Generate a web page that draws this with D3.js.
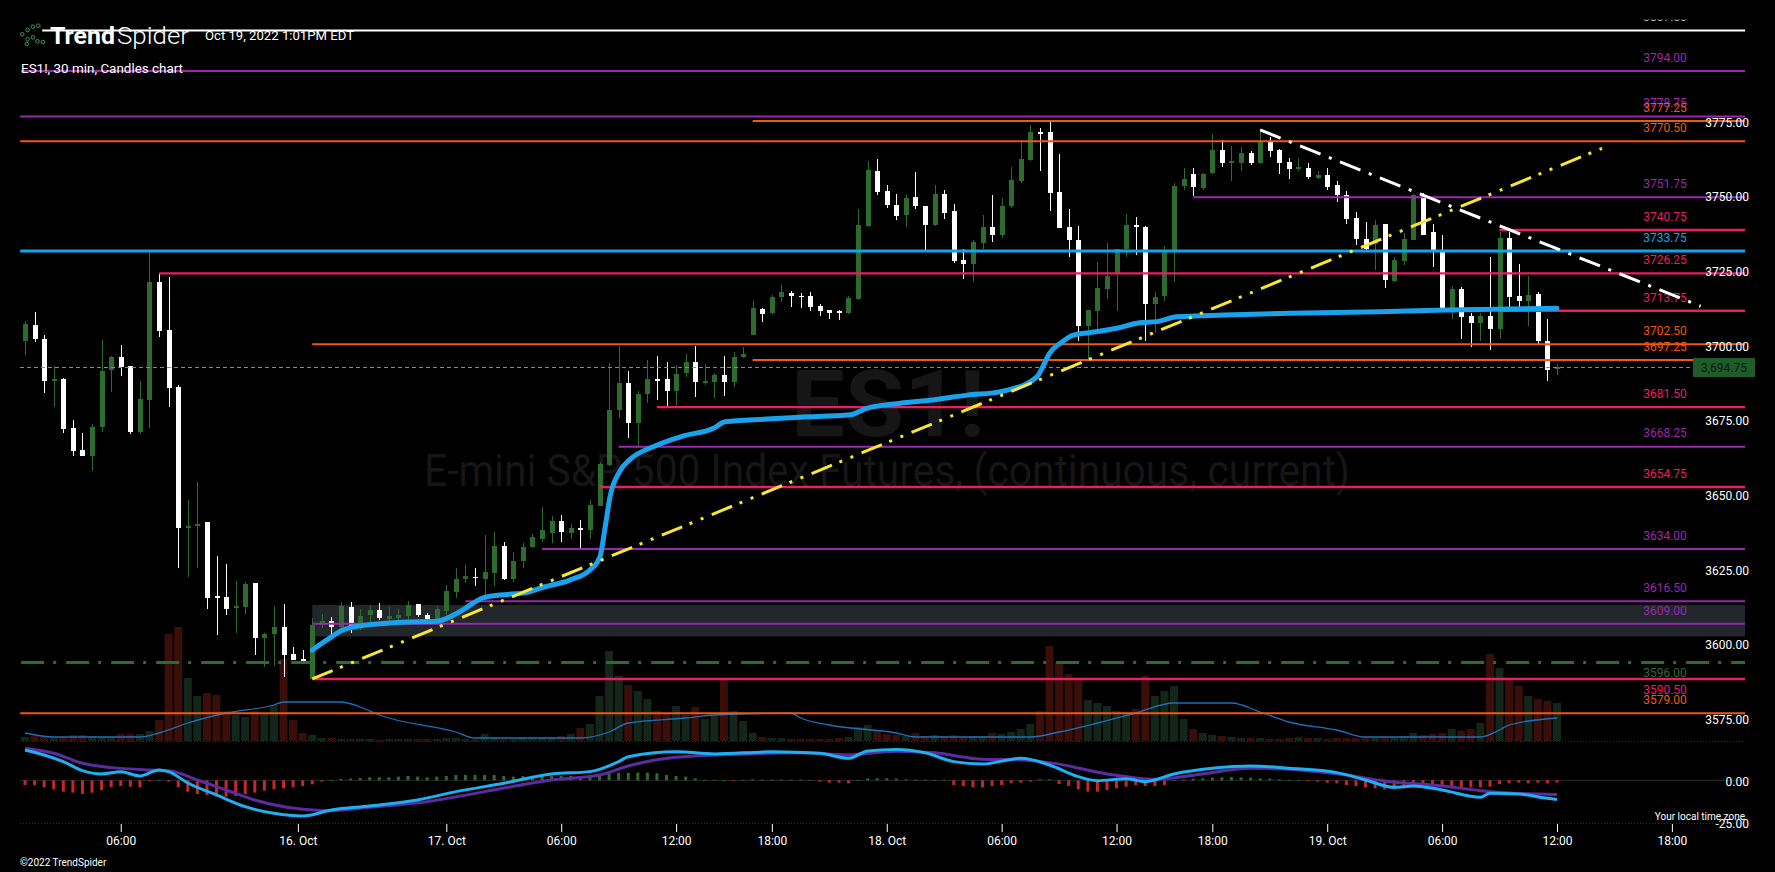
<!DOCTYPE html>
<html><head><meta charset="utf-8">
<script src="https://cdn.jsdelivr.net/npm/d3@7"></script>
<style>
body{margin:0;background:#000;overflow:hidden}
svg{display:block}
text{font-family:Roboto,"Open Sans",sans-serif}
</style></head><body>
<svg id="c" width="1775" height="872"></svg>
<script>
// ---------- DATA ----------
const opens=[3703.75,3709,3704.25,3690.25,3691,3674.5,3667,3665,3674.75,3693.75,
3698.25,3695.25,3673,3684,3723.5,3707.25,3688.25,3641,3641.75,3643,
3618.25,3618,3614.25,3614.75,3622.5,3604.25,3605.5,3608,3598.75,3597.25,
3590.5,3608.5,3610,3607.75,3614.75,3608.5,3611.75,3613.5,3610.5,3611,
3611.5,3615.5,3612,3610.5,3613.25,3619.5,3624,3624.75,3624,3626,
3635,3624,3630,3634.75,3637.5,3639.5,3643.25,3639.5,3641,3640.5,
3648.5,3662,3680.5,3689.5,3676.25,3685.75,3691,3690.75,3687,3692.75,
3696.5,3689.5,3690,3692.25,3690,3698.25,3705.5,3714.25,3713,3718.25,
3719.75,3718.75,3718.75,3715.25,3714,3713.5,3713,3717.75,3742,3760.5,
3753.75,3749,3745.75,3751.75,3748.75,3742.5,3752.75,3747.25,3730.75,3729.5,
3736.5,3741.75,3739.25,3748.75,3757.25,3764.25,3773.5,3773.5,3753.5,3741.75,
3737.5,3708.75,3713.75,3721,3726.25,3734.25,3742.5,3741.75,3716,3718.75,
3734,3755.5,3759.5,3754.75,3759.75,3767.5,3763.25,3763.25,3766.5,3763.25,
3770.25,3767.5,3763.5,3761.25,3761.5,3758.25,3759.25,3755.75,3752.5,3744.75,
3737.75,3736,3742.75,3723.75,3730.5,3737.5,3752,3740,3733.5,3714.5,
3721,3712,3709.75,3712,3707.5,3738.25,3718.75,3717,3719.25,3703.75,
3694.5];
const highs=[3710.25,3713.25,3705.5,3695.25,3691.25,3677.25,3672.75,3676,3704,3698.75,
3702.25,3695.25,3690.25,3733.5,3726.25,3725,3689,3650.5,3656.5,3643,
3631.75,3629,3623.25,3623,3622.5,3605.75,3615,3615.5,3601.25,3600.25,
3611,3612.25,3611.25,3616.25,3616.25,3614,3615.25,3616,3614.5,3614,
3616.5,3615.75,3612.5,3615,3622,3627.5,3628.75,3627.75,3638.75,3639.75,
3636.5,3633,3636,3639,3648,3645,3645.5,3642.5,3643.75,3650.5,
3663,3696.25,3702,3693.5,3687,3697.25,3698.5,3696.75,3695.5,3699.25,
3702,3696,3692.75,3698.5,3700,3701.75,3717,3714.75,3719,3722.5,
3720.5,3719.75,3720,3716,3714,3714,3718.75,3747.75,3763.75,3764.5,
3755.75,3752.75,3752.5,3760.25,3748.75,3755.75,3754.25,3749.5,3734.5,3737.5,
3745.75,3752.5,3751.5,3761.75,3770.25,3776,3775,3777,3766.25,3747.75,
3742,3714,3730,3736.5,3734.5,3746.25,3745.25,3742,3720,3735.5,
3756.5,3761.5,3761.5,3759.75,3773,3771,3769,3768.5,3767.25,3774.25,
3771.75,3768,3765,3765,3763.25,3760.5,3761.5,3757.25,3753.75,3746.75,
3743.5,3744,3742.75,3731.75,3739.75,3752.75,3753,3742.75,3739,3722,
3721.75,3713,3713,3731.75,3740.25,3740.25,3729.5,3725.5,3720,3711,
3696];
const lows=[3699,3703.25,3686.25,3681.5,3672.75,3665,3665,3660.25,3673.25,3686.5,
3692,3672.5,3672.5,3674.5,3705,3681.5,3627.75,3624.75,3627.75,3614,
3605.25,3612,3606,3612.25,3598.5,3594.5,3595,3591.25,3596.75,3596,
3590.5,3607.5,3604.75,3606,3606,3607,3609.5,3610.25,3609,3610,
3610.25,3611.25,3610,3610,3612,3617.75,3622.75,3621.5,3617.75,3621.5,
3623.75,3623,3627.75,3634.25,3636.5,3636,3636.5,3637.25,3634.25,3637.5,
3648.25,3661.75,3678,3671,3668.5,3683,3684,3682,3681.75,3691.5,
3685,3689,3684.5,3685.25,3688.25,3698,3705.5,3710,3712.75,3716.5,
3715,3714.5,3713.75,3712,3711,3710.5,3712.75,3717.25,3741.75,3752.5,
3748.25,3744,3741.75,3747.75,3734,3742.25,3744.5,3729.75,3724.5,3723.5,
3734.5,3736.75,3738,3748.25,3756.5,3764,3760.5,3747,3741.5,3731.75,
3703.5,3697.75,3707.25,3717.75,3713.75,3731.75,3732.25,3703.5,3706.25,3717,
3723.5,3754,3752,3754.25,3759.5,3762,3757.25,3760.5,3762.5,3763,
3765.25,3759.5,3757.75,3760.5,3757.75,3757.75,3754,3750.25,3742.75,3735.75,
3734,3727.25,3721.5,3723.5,3729,3737.25,3739,3728.25,3714.5,3711,
3704.25,3701.75,3703.5,3700.5,3704.25,3715,3715,3708.5,3702.75,3690.25,
3692.25];
const closes=[3709.25,3704.25,3690.25,3691,3674.25,3666.75,3665,3674.75,3693.5,3698.25,
3694.75,3673,3684.25,3723.5,3707,3687.75,3641,3641.75,3642.5,3617.75,
3617.75,3614,3615,3622.25,3604.25,3605.5,3608,3598.5,3597,3596,
3608.5,3610,3607.75,3615,3608,3611.5,3613.75,3610.75,3611.5,3612,
3615.25,3612,3610.5,3614,3620,3624,3625,3624.25,3626.25,3635,
3624,3630,3634.75,3638,3640.25,3643.25,3639.75,3641,3640.5,3648.75,
3662.5,3680.5,3689.5,3676.25,3685.75,3691,3690.25,3687,3692.5,3696.5,
3689.75,3690.25,3692.25,3689.75,3698.25,3699.25,3714.5,3712.75,3718.25,3720,
3718.75,3718.5,3715,3713.5,3713,3713.25,3718,3742.5,3760.75,3753.5,
3749,3745.5,3751.5,3748.75,3742.5,3752.75,3746.5,3730.25,3729.25,3736.75,
3741.75,3739.25,3748.75,3757.5,3764.5,3773.5,3773.25,3753.25,3741.5,3737.25,
3708.75,3714,3721.25,3725.5,3734.5,3742.5,3741.75,3716,3718.5,3734,
3755.5,3757.75,3755,3759.5,3767.5,3763.25,3763.75,3766.5,3763.25,3770.25,
3767.25,3763.25,3761.25,3761.75,3758.5,3759.25,3755.25,3752.5,3744.5,3737.75,
3734.5,3742.5,3724,3730.75,3737.75,3752.5,3739.25,3734,3714.5,3721,
3711.75,3709.75,3712,3707.75,3738,3718.5,3717,3719,3703.75,3694,
3694.75];
// volume (thousands of contracts)
const volumes=[4,5,5,4,4,6,6,5,4,4,
7,7,7,10,21,107,114,63,45,48,
46,30,26,24,30,28,36,82,21,8,
6,3,3,2,2,2,2,1,2,2,
2,2,2,2,3,3,2,2,7,3,
2,2,3,3,4,4,5,7,13,17,
45,90,65,56,50,42,30,28,35,26,
34,22,25,62,30,20,8,4,3,3,
2,2,2,2,2,3,4,14,16,10,
7,6,5,8,5,6,5,6,4,5,
5,8,7,9,12,17,30,95,79,67,
62,41,38,35,30,28,32,65,45,50,
55,22,12,8,6,5,4,3,3,3,
2,2,3,4,3,3,2,3,3,3,
4,3,4,4,5,8,6,7,8,12,
10,12,18,87,73,62,55,45,42,40,
38];
// volume moving average: [candle index, value]
const volMA=[[0,8],[3,4],[12,4],[14,8],[17,18],[21,28],[26,36],[27,39],[33,39],[35,34],[37,26],[45,9],[47,3],[58,3],[61,9],[63,18],[69,23],[72,26],[80,28],[81,23],[84,16],[91,8],[93,4],[105,4],[108,9],[112,18],[116,28],[120,38],[126,38],[129,29],[132,19],[137,11],[140,4],[152,4],[154,11],[155,16],[160,23]];
// MACD histogram per candle
const macdHist=[-2.8,-2.8,-4.2,-5.4,-6.8,-7.4,-8.2,-7.4,-5.8,-4.2,
-3.4,-3.8,-4.2,-0.4,0.2,-0.8,-4.2,-6.8,-8.2,-8.8,
-9.8,-9.8,-9.4,-8.2,-7.4,-6.2,-5.4,-4.8,-4.2,-3.4,
-2.4,-0.8,0.2,0.8,1.0,1.4,1.8,1.8,1.8,2.2,
2.6,2.2,1.8,2.2,2.6,3.2,3.2,3.2,3.2,3.2,
2.6,2.2,2.6,2.6,3.2,2.6,2.6,2.6,2.6,2.6,
3.2,4.2,4.6,4.6,4.6,4.6,4.2,3.2,2.6,2.2,
1.2,0.2,0.2,0.1,-0.1,0.1,0.6,0.4,0.4,0.4,
0.4,0.4,0.1,-0.8,-1.4,-1.4,-1.8,0.2,1.2,1.2,
1.2,1.0,0.6,0.4,0.4,0.2,0.2,-2.8,-3.4,-4.2,
-4.2,-3.4,-2.8,-1.8,-1.4,-0.8,0.6,0.6,-2.2,-3.4,
-5.4,-6.8,-6.8,-5.8,-4.8,-3.8,-2.8,-3.4,-3.4,-2.8,
0.2,0.6,1.0,1.2,1.6,1.8,2.0,1.8,1.6,1.2,
1.0,0.6,0.2,0.1,-0.1,-0.8,-1.4,-1.8,-2.8,-3.4,
-4.2,-4.8,-5.4,-5.4,-4.8,-3.4,-3.0,-2.8,-3.4,-3.8,
-4.2,-4.2,-4.2,-3.8,-2.2,-1.8,-1.4,-1.8,-1.4,-1.8,
-1.4];
const macdLine=[[0,18.2],[2,15.2],[4,11.2],[6,5.8],[8,3.8],[10,5.2],[12,2.6],[14,6.2],[15,5.2],[17,-1.6],[20,-8.8],[23,-15.8],[26,-19.8],[29,-21.4],[32,-17.8],[36,-15.4],[41,-11.8],[45,-6.8],[50,-1.8],[55,3.8],[59,5.2],[62,11.2],[63,14.1],[68,17.1],[72,15.8],[78,17.1],[83,16.2],[86,13.2],[88,17.6],[91,18.5],[94,16.5],[97,11.2],[100,9.8],[104,13.2],[107,9.2],[110,2.2],[112,-0.2],[115,1.0],[117,-0.8],[120,3.8],[124,7.2],[128,8.6],[132,7.2],[137,4.6],[140,0.2],[143,-4.2],[145,-3.4],[148,-5.8],[152,-10.2],[153,-7.8],[156,-8.2],[159,-10.8],[160,-11.5]];
const signalLine=[[0,19.2],[3,16.2],[6,10.2],[9,7.6],[13,6.2],[15,5.8],[18,0.2],[21,-5.8],[24,-11.8],[29,-17.4],[32,-18.2],[36,-16.2],[42,-12.8],[48,-6.8],[55,0.2],[60,3.2],[63,8.6],[68,13.8],[75,15.6],[81,16.5],[86,15.2],[91,17.4],[95,16.5],[100,12.6],[104,12.2],[107,10.6],[113,3.8],[118,0.6],[123,3.8],[128,7.2],[133,6.2],[138,3.2],[142,-0.4],[148,-3.4],[152,-6.2],[159,-8.4],[160,-8.5]];
// anchored VWAP: [candle index, price]
const vwap=[[30,3600.2],[31.5,3603.5],[33.2,3606.9],[34.3,3607.9],[37,3609],[39.2,3609.5],[43,3609.8],[45.4,3613],[47.8,3617.6],[49.6,3618.6],[52.4,3619.4],[53.8,3620.9],[56.9,3623.6],[59,3627],[60.05,3631.4],[60.6,3641.5],[61.1,3651.5],[62.1,3659.9],[63.2,3664],[65.6,3668.2],[68.7,3671.8],[71.9,3674.4],[73.1,3676.6],[77.5,3677.5],[80.9,3678.1],[86.2,3678.9],[87.9,3681.1],[91.4,3682.8],[94.8,3683.9],[98.4,3685.5],[101.8,3686.6],[102.9,3687.4],[105.7,3691.7],[106.3,3695],[107,3699.5],[108.1,3702.8],[109.5,3705.6],[111.2,3706.4],[114,3707.9],[116.4,3709.7],[118.2,3710.1],[120.3,3711.7],[125.2,3712.3],[132.1,3712.9],[141.5,3713.4],[148.5,3714],[160,3714.6]];
// horizontal levels
const levelPrices=[3807.50,3794.00,3778.75,3777.25,3770.50,3751.75,3740.75,3733.75,3726.25,3713.75,3702.50,3697.25,3681.50,3668.25,3654.75,3634.00,3616.50,3609.00,3596.00,3590.50,3579.00];
const levelStartIdx=[1.8,-0.4,-0.5,76,-0.5,122,154,-0.5,14,154,30,76,66,62,60,54,46,30,-0.4,30,-0.5];
const levelKind=['white','purple','purple','orange','orange','purple','pink','blue','pink','pink','orange','orange','pink','purple','pink','purple','purple','purple','green','pink','orange'];
const levelLabelBelow=[0,0,0,0,0,0,0,0,0,0,0,0,0,0,0,0,0,0,1,1,0];
const zonePrices=[3615.25,3604.75], zoneStartIdx=30;
const trendYellow=[[30,3590.5],[164.7,3768.1]];
const trendWhite=[[129,3774.25],[175,3715.25]];
const lastPrice=3694.75;
const priceTicks=[3575,3600,3625,3650,3675,3700,3725,3750,3775];
const macdTicks=[0,-25];
const timeTickIdx=[10,28.5,44,56,68,78,90,102,114,124,136,148,160,172];
const timeTickLabels=['06:00','16. Oct','17. Oct','06:00','12:00','18:00','18. Oct','06:00','12:00','18:00','19. Oct','06:00','12:00','18:00'];

// ---------- STYLE ----------
const GREEN='#2e6b2e', WHITE='#ffffff';
const kindStyle={white:{c:'#ffffff',w:2},purple:{c:'#9c27b0',w:2},orange:{c:'#f0590c',w:2},pink:{c:'#e91e63',w:2.4},blue:{c:'#0aa6f0',w:3},green:{c:'#2e6b2e',w:3,dash:'23,9,3,10'}};
const RIGHT=1745;

const svg=d3.select('#c');
svg.append('rect').attr('width',1775).attr('height',872).attr('fill','#000');
const x=d3.scaleLinear().domain([0,160]).range([25,1557]);
const y=d3.scaleLinear().domain([3575,3800]).range([725.3,53.0]);
const yVol=d3.scaleLinear().domain([0,120]).range([741,621]);
const yMacd=d3.scaleLinear().domain([-25,25]).range([822,738.6]);

const defs=svg.append('defs');
defs.append('clipPath').attr('id','clipTop').append('rect').attr('x',0).attr('y',19.5).attr('width',1775).attr('height',860);

// watermark
svg.append('text').attr('x',888).attr('y',436).attr('text-anchor','middle')
 .attr('font-family','Liberation Sans, Arial, sans-serif').attr('font-weight','bold').attr('font-size',92)
 .attr('fill','#161616').attr('textLength',194).attr('lengthAdjust','spacingAndGlyphs').text('ES1!');
svg.append('text').attr('x',887).attr('y',486).attr('text-anchor','middle')
 .attr('font-family','Liberation Sans, Arial, sans-serif').attr('font-size',44)
 .attr('fill','#161616').attr('textLength',926).attr('lengthAdjust','spacingAndGlyphs')
 .text('E-mini S&P 500 Index Futures, (continuous, current)');

// zone
svg.append('rect').attr('x',x(zoneStartIdx)).attr('width',RIGHT-x(zoneStartIdx))
 .attr('y',y(zonePrices[0])).attr('height',y(zonePrices[1])-y(zonePrices[0])).attr('fill','#21272b');

const candles=d3.range(opens.length).map(i=>({i,o:opens[i],h:highs[i],l:lows[i],c:closes[i],v:volumes[i],m:macdHist[i]}));

// volume
svg.append('g').selectAll('rect').data(candles).join('rect')
 .attr('x',d=>x(d.i)-4).attr('width',8).attr('y',d=>yVol(d.v)).attr('height',d=>yVol(0)-yVol(d.v))
 .attr('fill',d=>d.c>=d.o?'#14261a':'#3a0e09');
svg.append('path').datum(volMA).attr('fill','none').attr('stroke','#1f6fb8').attr('stroke-width',1.3)
 .attr('d',d3.line().x(d=>x(d[0])).y(d=>yVol(d[1])).curve(d3.curveMonotoneX));
svg.append('line').attr('x1',20).attr('x2',RIGHT).attr('y1',741.5).attr('y2',741.5).attr('stroke','#1e3a22').attr('stroke-dasharray','1,2');

// MACD pane
svg.append('line').attr('x1',20).attr('x2',RIGHT).attr('y1',yMacd(0)).attr('y2',yMacd(0)).attr('stroke','#2a2a2a');
svg.append('line').attr('x1',20).attr('x2',RIGHT).attr('y1',823.5).attr('y2',823.5).attr('stroke','#2e2e2e').attr('stroke-dasharray','1,2');
svg.append('g').selectAll('rect').data(candles).join('rect')
 .attr('x',d=>x(d.i)-1.5).attr('width',3)
 .attr('y',d=>d.m>=0?yMacd(d.m):yMacd(0)).attr('height',d=>Math.max(0.8,Math.abs(yMacd(d.m)-yMacd(0))))
 .attr('fill',d=>d.m>=0?'#2e6b2e':'#c62828');
svg.append('path').datum(signalLine).attr('fill','none').attr('stroke','#5b2ca0').attr('stroke-width',3)
 .attr('d',d3.line().x(d=>x(d[0])).y(d=>yMacd(d[1])).curve(d3.curveMonotoneX));
svg.append('path').datum(macdLine).attr('fill','none').attr('stroke','#1fb0f2').attr('stroke-width',3)
 .attr('d',d3.line().x(d=>x(d[0])).y(d=>yMacd(d[1])).curve(d3.curveMonotoneX));

// candles
const cg=svg.append('g').attr('shape-rendering','crispEdges');
cg.selectAll('line').data(candles).join('line')
 .attr('x1',d=>Math.round(x(d.i))+0.5).attr('x2',d=>Math.round(x(d.i))+0.5)
 .attr('y1',d=>y(d.h)).attr('y2',d=>y(d.l)).attr('stroke',d=>d.c>=d.o?GREEN:WHITE);
cg.selectAll('rect').data(candles).join('rect')
 .attr('x',d=>Math.round(x(d.i))-2).attr('width',5)
 .attr('y',d=>y(Math.max(d.o,d.c))).attr('height',d=>Math.max(1.5,Math.abs(y(d.o)-y(d.c))))
 .attr('fill',d=>d.c>=d.o?GREEN:WHITE);

// current price line
svg.append('line').attr('x1',20).attr('x2',1693).attr('y1',y(lastPrice)).attr('y2',y(lastPrice))
 .attr('stroke','#8a8a8a').attr('stroke-dasharray','4,3');

// levels
const levels=levelPrices.map((p,k)=>({p,s:levelStartIdx[k],kind:levelKind[k],below:levelLabelBelow[k]}));
const lg=svg.append('g').attr('clip-path','url(#clipTop)');
lg.selectAll('line').data(levels).join('line')
 .attr('x1',d=>x(d.s)).attr('x2',RIGHT).attr('y1',d=>y(d.p)).attr('y2',d=>y(d.p))
 .attr('stroke',d=>kindStyle[d.kind].c).attr('stroke-width',d=>kindStyle[d.kind].w)
 .attr('stroke-dasharray',d=>kindStyle[d.kind].dash||null);
lg.selectAll('text').data(levels).join('text')
 .attr('x',1665).attr('y',d=>d.below?y(d.p)+14.8:y(d.p)-9.2).attr('text-anchor','middle').attr('font-size',12)
 .attr('fill',d=>d.kind==='white'?'#bbbbbb':kindStyle[d.kind].c).text(d=>d.p.toFixed(2));

// VWAP
svg.append('path').datum(vwap).attr('fill','none').attr('stroke','#1aa3ec').attr('stroke-width',5).attr('stroke-linecap','round')
 .attr('d',d3.line().x(d=>x(d[0])).y(d=>y(d[1])).curve(d3.curveMonotoneX));

// trendlines
const tl=d3.line().x(d=>x(d[0])).y(d=>y(d[1]));
svg.append('path').datum(trendYellow).attr('d',tl).attr('stroke','#f7e733').attr('stroke-width',3).attr('stroke-dasharray','22,8,3,9,3,9');
svg.append('path').datum(trendWhite).attr('d',tl).attr('stroke','#ffffff').attr('stroke-width',3).attr('stroke-dasharray','22,9,3,9');

// last price tag
svg.append('rect').attr('x',1693).attr('y',y(lastPrice)-9.5).attr('width',62).attr('height',19).attr('fill','#1f5c2a');
svg.append('text').attr('x',1724).attr('y',y(lastPrice)+4.3).attr('text-anchor','middle').attr('font-size',12).attr('fill','#0d1a0d').text(d3.format(',.2f')(lastPrice));

// price axis
const pa=svg.append('g').attr('transform','translate(1749,0)')
 .call(d3.axisRight(y).tickValues(priceTicks).tickSize(0).tickFormat(d=>d.toFixed(2)));
pa.select('.domain').remove();
pa.selectAll('text').attr('x',0).attr('text-anchor','end').attr('dy','-1.7').attr('fill','#fff').attr('font-size',12).attr('font-family','Roboto, sans-serif');

// macd axis
const ma=svg.append('g').attr('transform','translate(1749,0)')
 .call(d3.axisRight(yMacd).tickValues(macdTicks).tickSize(0).tickFormat(d=>d.toFixed(2)));
ma.select('.domain').remove();
ma.selectAll('text').attr('x',0).attr('text-anchor','end').attr('dy','5').attr('fill','#fff').attr('font-size',12).attr('font-family','Roboto, sans-serif');

// time axis
const xa=svg.append('g').attr('transform','translate(0,824)')
 .call(d3.axisBottom(x).tickValues(timeTickIdx).tickSize(8).tickPadding(4).tickFormat((d,k)=>timeTickLabels[k]));
xa.select('.domain').remove();
xa.selectAll('line').attr('stroke','#fff');
xa.selectAll('text').attr('fill','#fff').attr('font-size',12).attr('font-family','Roboto, sans-serif');

svg.append('text').attr('x',1745).attr('y',820).attr('text-anchor','end').attr('font-size',10).attr('fill','#fff').text('Your local time zone');
svg.append('text').attr('x',20).attr('y',866).attr('font-size',10).attr('fill','#fff').text('©2022 TrendSpider');

// header
const logoDots=[[22.2,34.3],[27.6,30],[32.9,26.7],[38.3,25.7],[27.6,39.3],[32.9,37.3],[37.5,41.3],[42.9,42],[26.8,44]];
svg.append('g').selectAll('circle').data(logoDots).join('circle').attr('cx',d=>d[0]).attr('cy',d=>d[1]).attr('r',1.8)
 .attr('fill','none').attr('stroke','#3f9b5a').attr('stroke-width',1);
svg.append('text').attr('x',50).attr('y',43.5).attr('font-family','Open Sans, sans-serif').attr('font-weight',700).attr('font-size',23)
 .attr('fill','#fff').attr('textLength',65).attr('lengthAdjust','spacingAndGlyphs').text('Trend');
svg.append('text').attr('x',117).attr('y',43.5).attr('font-family','Open Sans, sans-serif').attr('font-weight',300).attr('font-size',23)
 .attr('fill','#fff').attr('textLength',72).attr('lengthAdjust','spacingAndGlyphs').text('Spider');
svg.append('text').attr('x',205).attr('y',40).attr('font-size',12).attr('fill','#fff').attr('textLength',149).attr('lengthAdjust','spacingAndGlyphs').text('Oct 19, 2022 1:01PM EDT');
svg.append('text').attr('x',21).attr('y',72.5).attr('font-size',12).attr('fill','#fff').attr('textLength',162).attr('lengthAdjust','spacingAndGlyphs').text('ES1!, 30 min, Candles chart');
</script>
</body></html>
